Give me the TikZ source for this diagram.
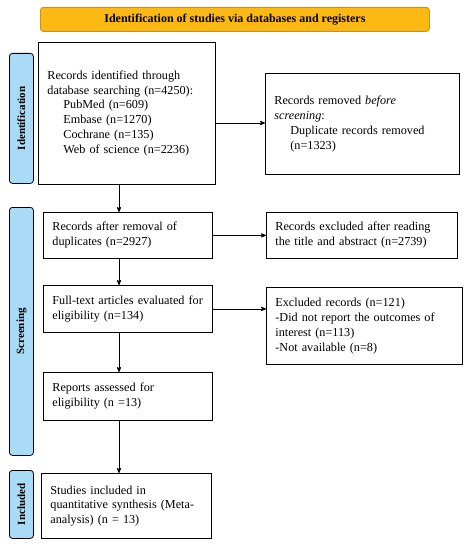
\documentclass[tikz,border=0pt]{standalone}
\usepackage{fontspec}
\setmainfont{Liberation Serif}
\usetikzlibrary{arrows, positioning}
\definecolor{faixa}{HTML}{FDB913}
\definecolor{faixaborda}{HTML}{C9940E}
\definecolor{aba}{HTML}{A9DBF6}

\tikzset{
	caixa/.style = {draw, thick, anchor=north west, inner sep=0pt, align=left,
		font=\fontsize{12.2}{14.8}\selectfont},
	abalateral/.style = {draw, thick, fill=aba, rounded corners=3pt, anchor=north west},
	rotulo/.style = {rotate=90, font=\fontsize{11}{12}\selectfont\bfseries}
}

\begin{document}
\begin{tikzpicture}[x=1pt, y=-1pt, thick, > = stealth']
			\useasboundingbox (0,0) rectangle (474,548);
			
			% faixa do topo
			\node [draw=faixaborda, fill=faixa, rounded corners=3pt, anchor=north west,
				minimum width=389pt, minimum height=24pt, inner sep=0pt,
				font=\fontsize{12}{13}\selectfont\bfseries] (topo) at (40,7)
				{Identification of studies via databases and registers};
			
			% abas laterais
			\node [abalateral, minimum width=24pt, minimum height=130pt] (abaid) at (9,53) {};
			\node [rotulo] at (abaid.center) {Identification};
			\node [abalateral, minimum width=24pt, minimum height=248pt] (abascr) at (9,207) {};
			\node [rotulo] at (abascr.center) {Screening};
			\node [abalateral, minimum width=24pt, minimum height=68pt] (abainc) at (9,470) {};
			\node [rotulo] at (abainc.center) {Included};
			
			% coluna da esquerda
			\node [caixa, minimum width=177pt, minimum height=142pt, text width=159pt] (ident) at (38,42)
				{Records identified through\\
				database searching (n=4250):\\
				\hspace*{16pt}PubMed (n=609)\\
				\hspace*{16pt}Embase (n=1270)\\
				\hspace*{16pt}Cochrane (n=135)\\
				\hspace*{16pt}Web of science (n=2236)};
			\node [caixa, minimum width=169pt, minimum height=46pt, text width=151pt] (dupl) at (43,212)
				{Records after removal of\\duplicates (n=2927)};
			\node [caixa, minimum width=169pt, minimum height=47pt, text width=151pt] (texto) at (43,285)
				{Full-text articles evaluated for\\eligibility (n=134)};
			\node [caixa, minimum width=169pt, minimum height=48pt, text width=151pt] (relat) at (43,372)
				{Reports assessed for\\eligibility (n =13)};
			\node [caixa, minimum width=170pt, minimum height=65pt, text width=152pt] (incl) at (41,473)
				{Studies included in\\quantitative synthesis (Meta-\\analysis) (n = 13)};
			
			% coluna da direita
			\node [caixa, minimum width=194pt, minimum height=101pt, text width=176pt] (remov) at (265,73)
				{Records removed \emph{before}\\
				\emph{screening}:\\
				\hspace*{16pt}Duplicate records removed\\
				\hspace*{16pt}(n=1323)};
			\node [caixa, minimum width=191pt, minimum height=46pt, text width=173pt] (excl) at (266,212)
				{Records excluded after reading\\the title and abstract (n=2739)};
			\node [caixa, minimum width=196pt, minimum height=77pt, text width=178pt] (exclreg) at (266,287)
				{Excluded records (n=121)\\
				-Did not report the outcomes of\\
				interest (n=113)\\
				-Not available (n=8)};
			
			% setas
			\draw [->] (ident.south -| 119,0) -- (dupl.north -| 119,0);
			\draw [->] (dupl.south -| 119,0) -- (texto.north -| 119,0);
			\draw [->] (texto.south -| 119,0) -- (relat.north -| 119,0);
			\draw [->] (relat.south -| 119,0) -- (incl.north -| 119,0);
			
			\draw [->] (ident.east |- 0,123) -- (remov.west |- 0,123);
			\draw [->] (dupl.east) -- (excl.west |- dupl.east);
			\draw [->] (texto.east) -- (exclreg.west |- texto.east);
\end{tikzpicture}
\end{document}
